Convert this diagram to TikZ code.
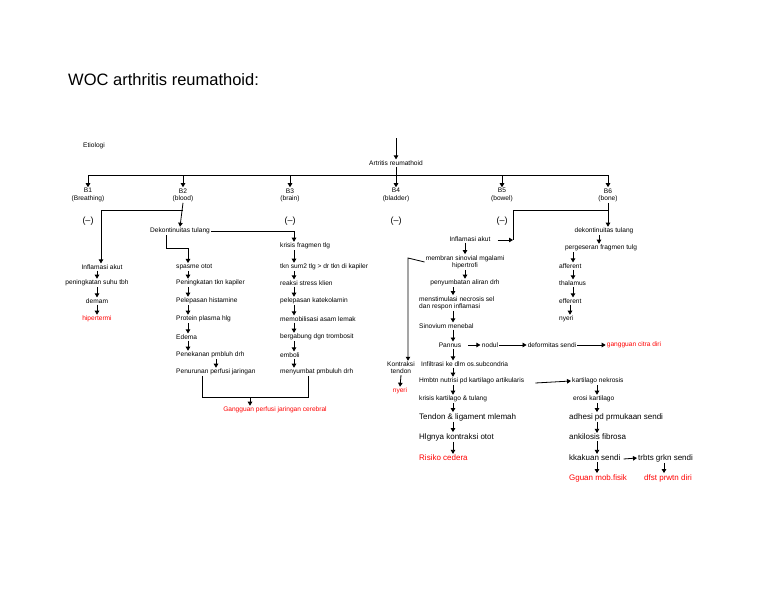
\documentclass[tikz,border=0pt]{standalone}
\usepackage{fontspec}
\setmainfont{Liberation Sans}
\usetikzlibrary{arrows.meta}
\begin{document}
\begin{tikzpicture}[x=1pt,y=-1pt,
  every node/.style={inner sep=1pt,font=\fontsize{6.6}{7.2}\selectfont},
  L/.style={anchor=west},
  C/.style={anchor=center,align=center},
  red/.style={text=red},
  big/.style={font=\fontsize{8}{9}\selectfont},
  theta/.style={font=\fontsize{9}{10}\selectfont},
  ar/.style={-{Triangle[length=4pt,width=4.5pt]},line width=0.8pt},
  ln/.style={line width=0.8pt}]
\useasboundingbox (0,0) rectangle (768,594);
\node[anchor=west,font=\fontsize{16.5}{19}\selectfont] (title) at (67,80) {WOC arthritis reumathoid:};
\node[L] (etio) at (82,146) {Etiologi};
\coordinate (top) at (396,138);
\node[C] (ar) at (396,163) {Artritis reumathoid};
\draw[ar] (top) -- (ar.north);
\coordinate (j) at (396,175);
\draw[ln] (ar.south) -- (j);
\draw[ln] (88,175) -- (608,175);
% B nodes
\foreach \n/\x/\a/\b in {b1/88/B1/(Breathing),b2/183/B2/(blood),b3/290/B3/(brain),b4/396/B4/(bladder),b5/502/B5/(bowel),b6/608/B6/(bone)}{
  \node[C] (\n) at (\x,195) {\a\\\b};
  \draw[ar] (\x,175) -- (\n.north);
}
\foreach \x/\n in {88/t1,290/t3,396/t4,502/t5}{\node[theta] (\n) at (\x,221) {(–)};}
% B2 branch
\node[C] (dek) at (180,231) {Dekontinuitas tulang};
\draw[ar] (b2.south) -- (dek.north);
\node[C] (infA) at (102,267) {Inflamasi akut};
\draw[ar] (183,210) -- (101,210) -- (infA.north -| 101,0);
\node[C] (suhu) at (97,283) {peningkatan suhu tbh};
\node[C] (demam) at (97,301) {demam};
\node[C,red] (hip) at (97,319) {hipertermi};
\draw[ar] (infA.south -| 97,0) -- (suhu.north -| 97,0);
\draw[ar] (suhu) -- (demam);
\draw[ar] (demam) -- (hip);
% B2 column
\coordinate (c2) at (188,0);
\node[L] (sp) at (175,267) {spasme otot};
\node[L] (p1) at (175,283) {Peningkatan tkn kapiler};
\node[L] (p2) at (175,301) {Pelepasan histamine};
\node[L] (p3) at (175,319) {Protein plasma hlg};
\node[L] (p4) at (175,337) {Edema};
\node[L] (p5) at (175,355) {Penekanan pmbluh drh};
\node[L] (p6) at (175,372) {Penurunan perfusi jaringan};
\draw[ar] (dek.south -| 166,0) -- (166,248) -- (188,248) -- (sp.north -| c2);
\draw[ar] (sp.south -| c2) -- (p1.north -| c2);
\draw[ar] (p1.south -| c2) -- (p2.north -| c2);
\draw[ar] (p2.south -| c2) -- (p3.north -| c2);
\draw[ar] (p3.south -| c2) -- (p4.north -| c2);
\draw[ar] (p4.south -| c2) -- (p5.north -| c2);
\draw[ar] (p5.south -| 216,0) -- (p6.north -| 216,0);
% B3 column
\coordinate (c3) at (294,0);
\node[L] (q0) at (279,246) {krisis fragmen tlg};
\node[L] (q1) at (279,267) {tkn sum2 tlg > dr tkn di kapiler};
\node[L] (q2) at (279,283) {reaksi stress klien};
\node[L] (q3) at (279,301) {pelepasan katekolamin};
\node[L] (q4) at (279,319) {memobilisasi asam lemak};
\node[L] (q5) at (279,337) {bergabung dgn trombosit};
\node[L] (q6) at (279,355) {emboli};
\node[L] (q7) at (279,372) {menyumbat pmbuluh drh};
\draw[ar] (dek.east) -- (294,231) -- (q0.north -| c3);
\foreach \a/\b in {q0/q1,q1/q2,q2/q3,q3/q4,q4/q5,q5/q6,q6/q7}{\draw[ar] (\a.south -| c3) -- (\b.north -| c3);}
\node[C,red] (gpj) at (275,410) {Gangguan perfusi jaringan cerebral};
\draw[ln] (p6.south -| 202,0) -- (202,397) -- (308,397) -- (q7.south -| 308,0);
\draw[ar] (250,397) -- (gpj.north -| 250,0);
% B6 right
\node[C] (dk6) at (604,231) {dekontinuitas tulang};
\draw[ar] (b6.south) -- (dk6.north -| 608,0);
\node[C] (pg) at (601,248) {pergeseran fragmen tulg};
\draw[ar] (dk6.south -| 599,0) -- (pg.north -| 599,0);
\coordinate (c6) at (573,0);
\node[L] (af) at (558,266) {afferent};
\node[L] (th) at (558,283) {thalamus};
\node[L] (ef) at (558,301) {efferent};
\node[L] (ny6) at (558,319) {nyeri};
\draw[ar] (pg.south -| c6) -- (af.north -| c6);
\draw[ar] (af.south -| c6) -- (th.north -| c6);
\draw[ar] (th.south -| c6) -- (ef.north -| c6);
\draw[ar] (ef.south -| 570,0) -- (ny6.north -| 570,0);
% B5 column
\node[C] (inf5) at (470,239) {Inflamasi akut};
\draw[ln] (608,210) -- (513,210) -- (513,240);
\draw[ar] (inf5.east) ++(6,1) -- (513,240);
\node[C] (mem) at (465,262) {membran sinovial mgalami\\hipertrofi};
\draw[ar] (inf5.south -| 465,0) -- (mem.north);
\coordinate (c5) at (453,0);
\node[C] (pny) at (465,283) {penyumbatan aliran drh};
\draw[ar] (mem.south) -- (pny.north);
\node[L,align=left] (men) at (418,303) {menstimulasi necrosis sel\\dan respon inflamasi};
\draw[ar] (pny.south -| c5) -- (men.north -| c5);
\node[L] (sin) at (418,326) {Sinovium menebal};
\draw[ar] (men.south -| c5) -- (sin.north -| c5);
\node[C] (pan) at (450,345) {Pannus};
\draw[ar] (sin.south -| c5) -- (pan.north -| c5);
\node[C] (nod) at (490,345) {nodul};
\node[C] (def) at (552,345) {deformitas sendi};
\node[C,red] (gcd) at (634,345) {gangguan citra diri};
\draw[ar] (pan.east) ++(6,0) -- ++(12,0);
\draw[ar] (nod.east) -- (def.west);
\draw[ar] (def.east) -- (gcd.west);
\node[L] (infl) at (420,364) {Infiltrasi ke dlm os.subcondria};
\draw[ar] (pan.south -| c5) -- (infl.north -| c5);
\node[C] (kon) at (401,368) {Kontraksi\\tendon};
\draw[ar] (mem.west) -- (408,258) -- (kon.north -| 408,0);
\node[C,red] (ny5) at (400,391) {nyeri};
\draw[ar] (kon.south) -- (ny5.north);
\node[L] (hm) at (418,381) {Hmbtn nutrisi pd kartilago artikularis};
\draw[ar] (infl.south -| c5) -- (hm.north -| c5);
\node[L] (kr) at (418,399) {krisis kartilago \& tulang};
\draw[ar] (hm.south -| c5) -- (kr.north -| c5);
\node[L,big] (td) at (418,417) {Tendon \& ligament mlemah};
\draw[ar] (kr.south -| c5) -- (td.north -| c5);
\node[L,big] (hl) at (418,437) {Hlgnya kontraksi otot};
\draw[ar] (td.south -| c5) -- (hl.north -| c5);
\node[L,big,red] (rc) at (418,458) {Risiko cedera};
\draw[ar] (hl.south -| c5) -- (rc.north -| c5);
% kartilago column
\coordinate (c7) at (597,0);
\node[L] (kn) at (571,381) {kartilago nekrosis};
\draw[ar] (hm.east) ++(10,2) -- (kn.west);
\node[L] (er) at (572,399) {erosi kartilago};
\draw[ar] (kn.south -| c7) -- (er.north -| c7);
\node[L,big] (ad) at (568,417) {adhesi pd prmukaan sendi};
\draw[ar] (er.south -| c7) -- (ad.north -| c7);
\node[L,big] (ak) at (568,437) {ankilosis fibrosa};
\draw[ar] (ad.south -| c7) -- (ak.north -| c7);
\node[L,big] (kk) at (568,458) {kkakuan sendi};
\draw[ar] (ak.south -| c7) -- (kk.north -| c7);
\node[L,big] (tb) at (637,458) {trbts grkn sendi};
\draw[ar] (kk.east) ++(2,1) -- (tb.west);
\node[C,big,red] (gm) at (598,478) {Gguan mob.fisik};
\draw[ar] (kk.south -| c7) -- (gm.north -| c7);
\node[C,big,red] (df) at (668,478) {dfst prwtn diri};
\draw[ar] (tb.south -| 664,0) -- (df.north -| 664,0);
\end{tikzpicture}
\end{document}
